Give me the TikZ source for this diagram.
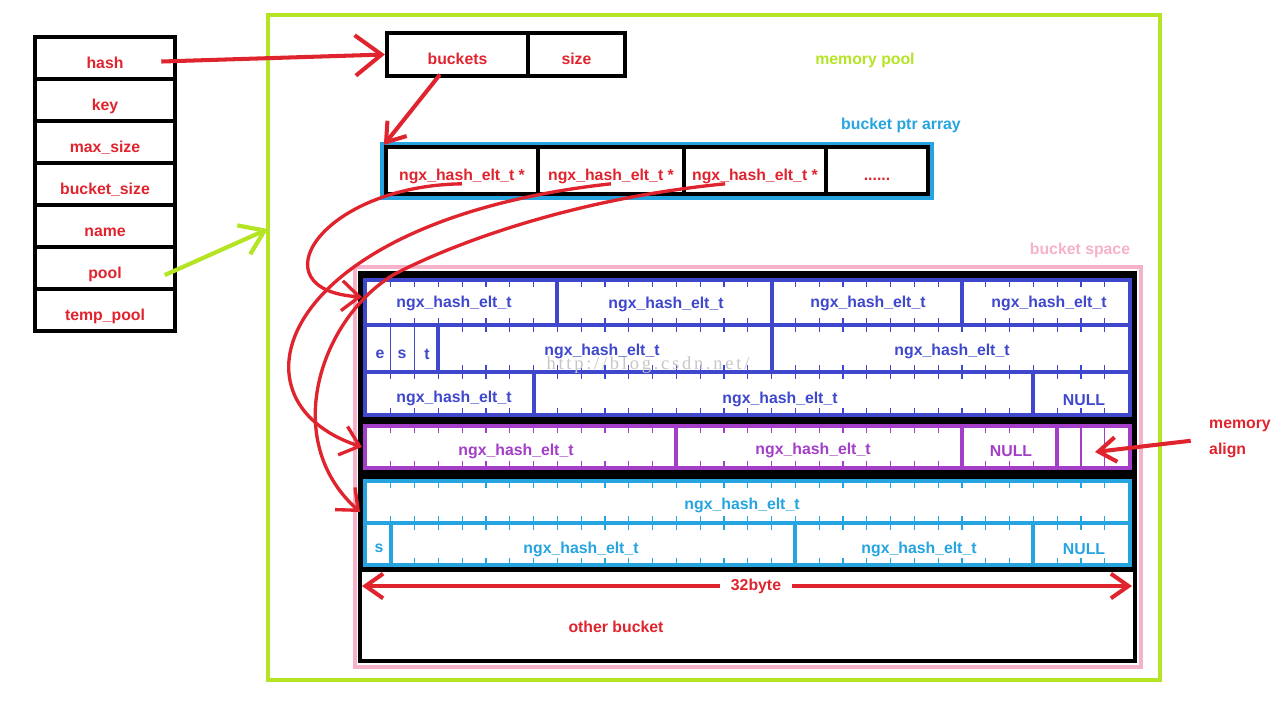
\documentclass[tikz,border=0pt]{standalone}
\usepackage{fontspec}
\setmainfont{Liberation Sans}
\newfontfamily\wmfont[LetterSpace=15]{Liberation Serif}
\usepackage{tikz}
\usetikzlibrary{arrows.meta}

\definecolor{hred}{RGB}{224,36,46}
\definecolor{hblue}{RGB}{63,72,204}
\definecolor{hpurple}{RGB}{163,62,200}
\definecolor{hcyan}{RGB}{38,164,224}
\definecolor{hpink}{RGB}{246,178,200}
\definecolor{hlime}{RGB}{181,228,36}

\begin{document}
\begin{tikzpicture}
  [x=0.02cm,y=-0.02cm,
   every node/.style={font=\fontsize{9}{15}\selectfont\bfseries},
   field/.style={draw,line width=2.4pt,minimum width=2.8cm,minimum height=0.84cm,
     text=hred,text height=11.5pt,text depth=0pt},
   ptrcell/.style={draw,line width=2.4pt,minimum height=0.94cm,text=hred,
     text height=11pt,text depth=0pt},
   bucketframe/.style={draw=#1,line width=2.3pt,fill=white},
   wall/.style={#1,line width=2.3pt},
   bytetick/.style={#1,line width=0.6pt},
   inred/.style={text=hred},
   inblue/.style={text=hblue},
   inpurple/.style={text=hpurple},
   incyan/.style={text=hcyan},
   redarrow/.style={hred,line width=2.3pt,-{Straight Barb[length=15pt,width=23pt]}},
   smallarrow/.style={hred,line width=2.3pt,-{Straight Barb[length=10pt,width=14pt]}},
   redcurve/.style={hred,line width=1.9pt,-{Straight Barb[length=10pt,width=17pt]}},
   greenarrow/.style={hlime,line width=2.4pt,-{Straight Barb[length=13pt,width=18pt]}}]
  \useasboundingbox (0,0) rectangle (1276,707);

  \draw[hlime,line width=2.8pt] (268,15) rectangle (1160,680);
  \node[text=hlime] (mpool) at (865,60) {memory pool};
  \node[text=hcyan] (ptrlbl) at (901,125) {bucket ptr array};
  \node[text=hpink] (spacelbl) at (1080,250) {bucket space};

  \node[field] (hash) at (105,58) {hash};
  \node[field] (key) at (105,100) {key};
  \node[field] (maxsize) at (105,142) {max\_size};
  \node[field] (bsize) at (105,184) {bucket\_size};
  \node[field] (name) at (105,226) {name};
  \node[field] (pool) at (105,268) {pool};
  \node[field] (temppool) at (105,310) {temp\_pool};

  \node[field,minimum width=2.82cm,minimum height=0.86cm] (buckets) at (457.5,54.5) {buckets};
  \node[field,minimum width=1.94cm,minimum height=0.86cm] (size) at (576.5,54.5) {size};

  \draw[hcyan,line width=2.8pt] (382,144) rectangle (932,198);
  \node[ptrcell,minimum width=3.04cm] (p1) at (462,170.5) {ngx\_hash\_elt\_t *};
  \node[ptrcell,minimum width=2.92cm] (p2) at (611,170.5) {ngx\_hash\_elt\_t *};
  \node[ptrcell,minimum width=2.84cm] (p3) at (755,170.5) {ngx\_hash\_elt\_t *};
  \node[ptrcell,minimum width=2.04cm] (pdots) at (877,170.5) {......};

  \draw[hpink,line width=2.3pt] (355,267) rectangle (1141,667);
  \draw[line width=2.6pt,fill=white] (360,273) rectangle (1135,661);
  \fill (360,273) rectangle (1135,572);
  \draw[bucketframe=hblue] (365,280) rectangle (1130,415);
  \draw[bucketframe=hpurple] (365,426) rectangle (1130,468);
  \draw[bucketframe=hcyan] (365,481) rectangle (1130,565);

  \foreach \k in {1,...,31} {
    \draw[bytetick=hblue] (367+\k*23.8,280) -- ++(0,7);
    \draw[bytetick=hblue] (367+\k*23.8,318) -- ++(0,14);
    \draw[bytetick=hblue] (367+\k*23.8,365) -- ++(0,14);
    \draw[bytetick=hblue] (367+\k*23.8,415) -- ++(0,-7);
    \draw[bytetick=hpurple] (367+\k*23.8,426) -- ++(0,7);
    \draw[bytetick=hpurple] (367+\k*23.8,468) -- ++(0,-7);
    \draw[bytetick=hcyan] (367+\k*23.8,481) -- ++(0,7);
    \draw[bytetick=hcyan] (367+\k*23.8,516) -- ++(0,14);
    \draw[bytetick=hcyan] (367+\k*23.8,565) -- ++(0,-7);
  }

  \draw[wall=hblue] (365,325) -- (1130,325) (365,372) -- (1130,372)
    (557.4,280) -- (557.4,325) (771.6,280) -- (771.6,325) (962,280) -- (962,325)
    (438.4,325) -- (438.4,372) (771.6,325) -- (771.6,372)
    (533.6,372) -- (533.6,415) (1033.4,372) -- (1033.4,415);
  \draw[bytetick=hblue] (390.8,325) -- (390.8,372) (414.6,325) -- (414.6,372);
  \draw[wall=hpurple] (676.4,426) -- (676.4,468) (962,426) -- (962,468)
    (1057.2,426) -- (1057.2,468);
  \draw[bytetick=hpurple] (1081,426) -- (1081,468) (1104.8,426) -- (1104.8,468);
  \draw[wall=hcyan] (365,523) -- (1130,523) (390.8,523) -- (390.8,565)
    (795.4,523) -- (795.4,565) (1033.4,523) -- (1033.4,565);

  \node[font=\wmfont\fontsize{10.5}{11}\selectfont,text=black!22] (wmark) at (648,365) {http://blog.csdn.net/};

  \node[inblue] (b1a) at (454,303) {ngx\_hash\_elt\_t};
  \node[inblue] (b1b) at (666,304) {ngx\_hash\_elt\_t};
  \node[inblue] (b1c) at (868,303) {ngx\_hash\_elt\_t};
  \node[inblue] (b1d) at (1049,303) {ngx\_hash\_elt\_t};
  \node[inblue] (b2e) at (380,354) {e};
  \node[inblue] (b2s) at (402,354) {s};
  \node[inblue] (b2t) at (427,354) {t};
  \node[inblue] (b2a) at (602,351) {ngx\_hash\_elt\_t};
  \node[inblue] (b2b) at (952,351) {ngx\_hash\_elt\_t};
  \node[inblue] (b3a) at (454,398) {ngx\_hash\_elt\_t};
  \node[inblue] (b3b) at (780,399) {ngx\_hash\_elt\_t};
  \node[inblue] (b3c) at (1084,400) {NULL};
  \node[inpurple] (u1a) at (516,451) {ngx\_hash\_elt\_t};
  \node[inpurple] (u1b) at (813,450) {ngx\_hash\_elt\_t};
  \node[inpurple] (u1c) at (1011,451) {NULL};
  \node[incyan] (c1a) at (742,505) {ngx\_hash\_elt\_t};
  \node[incyan] (c2s) at (379,548) {s};
  \node[incyan] (c2a) at (581,549) {ngx\_hash\_elt\_t};
  \node[incyan] (c2b) at (919,549) {ngx\_hash\_elt\_t};
  \node[incyan] (c2c) at (1084,549) {NULL};

  \node[inred,inner xsep=6pt] (w32) at (756,586) {32byte};
  \node[inred] (other) at (616,627) {other bucket};
  \node[inred,align=left,anchor=west] (malign) at (1203,439) {memory\\align};

  \coordinate (l32) at (362,586);
  \coordinate (r32) at (1132,586);
  \coordinate (poolin) at (268,229);
  \coordinate (pad) at (1095,452);
  \coordinate (bk1) at (362,297);
  \coordinate (bk2) at (362,447);
  \coordinate (bk3) at (360,512);

  \draw[redarrow] ([xshift=-9pt,yshift=-2pt]hash.east) -- (buckets.west);
  \draw[greenarrow] ([xshift=-7pt,yshift=-4pt]pool.east) -- (poolin);
  \draw[smallarrow] ([xshift=-10pt,yshift=2pt]buckets.south) -- (p1.north west);
  \draw[smallarrow] (w32.west) -- (l32);
  \draw[smallarrow] (w32.east) -- (r32);
  \draw[smallarrow] ([xshift=-7pt,yshift=-1pt]malign.west) -- (pad);

  \draw[redcurve] ([yshift=7pt]p1.south) .. controls (320,186) and (255,290) .. (bk1);
  \draw[redcurve] ([yshift=7pt]p2.south) .. controls (280,220) and (220,400) .. (bk2);
  \draw[redcurve] ([xshift=-17pt,yshift=7pt]p3.south) .. controls (560,200) and (440,250) .. (393,275)
    .. controls (320,320) and (280,440) .. (bk3);
\end{tikzpicture}
\end{document}
